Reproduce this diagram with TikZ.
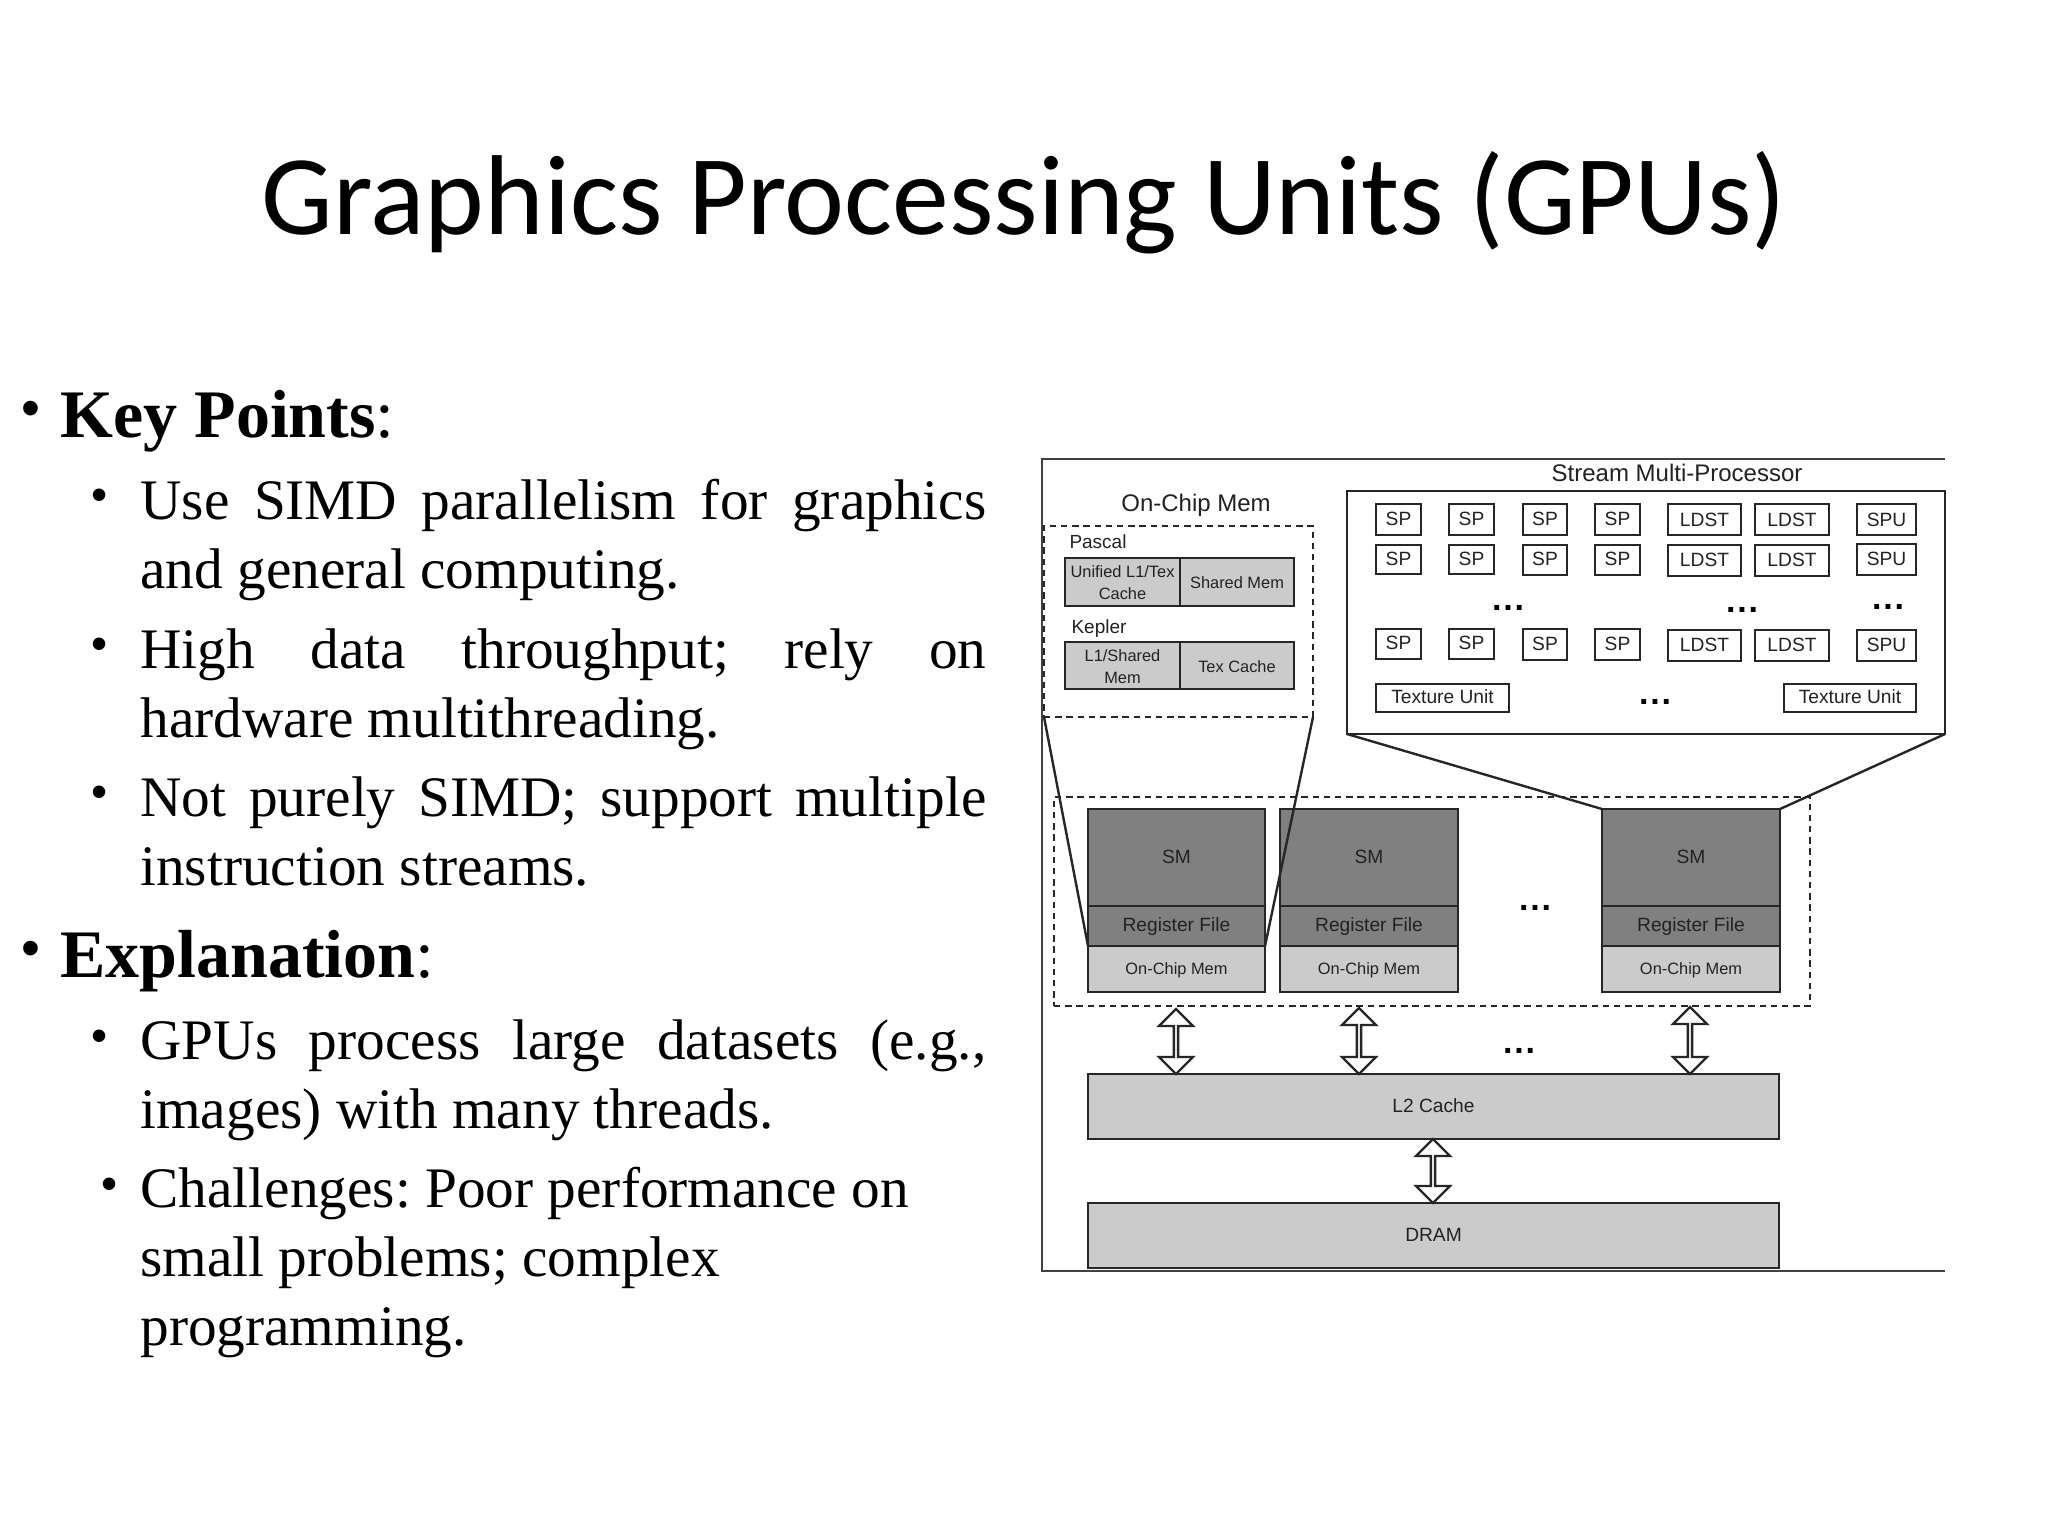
\documentclass[tikz,border=0pt]{standalone}
\usepackage{fontspec}
\setmainfont{Liberation Serif}
\newfontfamily\titlefont{Carlito}
\newfontfamily\diagfont{Liberation Sans}
\usetikzlibrary{shapes.arrows}
\definecolor{sminner}{HTML}{808080}
\definecolor{memgrey}{HTML}{CBCBCB}
\definecolor{inktext}{HTML}{222222}
\tikzset{
  cellbox/.style={draw=black!85,line width=1.4pt,inner sep=0pt,outer sep=0pt,font=\diagfont\fontsize{9.6}{11}\selectfont,text=inktext,align=center},
  darkcell/.style={cellbox,fill=sminner},
  greycell/.style={cellbox,fill=memgrey},
  tinycell/.style={greycell,font=\diagfont\fontsize{8.2}{10}\selectfont},
  plaincell/.style={cellbox,fill=white},
  dashbox/.style={draw=black!85,line width=1.2pt,dash pattern=on 3.2pt off 2.4pt,inner sep=0pt,outer sep=0pt},
  panelbox/.style={draw=black!85,line width=1.4pt,inner sep=0pt,outer sep=0pt},
  link/.style={draw=black!85,line width=1.2pt},
  bigarrow/.style={double arrow,draw=black!85,fill=white,line width=1.2pt,rotate=90,inner sep=0pt,outer sep=0pt,minimum width=17pt,double arrow head extend=4.2pt,double arrow tip angle=90},
  difflabel/.style={inner sep=0pt,font=\diagfont\fontsize{9.5}{13}\selectfont,text=inktext},
  dotslabel/.style={inner sep=0pt,font=\diagfont\bfseries\fontsize{17}{17}\selectfont,text=black},
  bodyline/.style={anchor=base west,inner sep=0pt,font=\frenchspacing\fontsize{28.65}{32}\selectfont},
  headline/.style={anchor=base west,inner sep=0pt,font=\fontsize{34}{38}\selectfont},
  bulA/.style={anchor=base,inner sep=0pt,font=\diagfont\fontsize{27}{27}\selectfont},
  bulB/.style={anchor=base,inner sep=0pt,font=\diagfont\fontsize{23}{23}\selectfont},
}
% \bx[style]{name}{x1}{y1}{x2}{y2}{text}
\newcommand\bx[7][]{\node[#1,minimum width={(#5-#3)*0.5},minimum height={(#6-#4)*0.5}] (#2) at ({(#3+#5)/2},{(#4+#6)/2}) {#7};}
\newcommand\jl[4]{\node[bodyline] (#1) at (#2,#3) {\makebox[423pt][s]{#4}};}
\newcommand\pl[4]{\node[bodyline] (#1) at (#2,#3) {#4};}
\newcommand\dn[1]{\raisebox{-0.5pt}[\height][\depth]{#1}}
\newcommand\dnm[1]{\raisebox{-0.8pt}[\height][\depth]{#1}}
\newcommand\dnh[1]{\raisebox{-0.5pt}[\height][\depth]{#1}}
\newcommand\up[1]{\raisebox{0.5pt}[\height][\depth]{#1}}
\newcommand\threedots{.\kern0.9pt.\kern0.9pt.}
\begin{document}
\begin{tikzpicture}[x=0.5pt,y=-0.5pt]
\useasboundingbox (0,0) rectangle (2048,1536);
\fill[white] (0,0) rectangle (2048,1536);
% title
\node[inner sep=0pt,anchor=base,font=\titlefont\fontsize{56.8}{62}\selectfont] (title) at (1024,234) {Graphics Processing Units (GPUs)};
% text
\node[bulA] (b1) at (31,426) {•};
\node[headline] (h1) at (60,437) {\textbf{Key Points}:};
\node[bulB] (b2) at (100,510) {•};
\jl{l1}{140}{519}{Use SIMD parallelism for graphics}
\pl{l2}{140}{588}{and general computing.}
\node[bulB] (b3) at (100,659) {•};
\jl{l3}{140}{668}{High data throughput; rely on}
\pl{l4}{140}{737}{hardware multithreading.}
\node[bulB] (b4) at (100,807) {•};
\jl{l5}{140}{816}{Not purely SIMD; support multiple}
\pl{l6}{140}{885}{instruction streams.}
\node[bulA] (b5) at (31,966) {•};
\node[headline] (h2) at (60,977) {\textbf{Explanation}:};
\node[bulB] (b6) at (100,1051) {•};
\jl{l7}{140}{1059}{GPUs process large datasets (e.g.,}
\pl{l8}{140}{1128}{images) with many threads.}
\node[bulB] (b7) at (110,1199) {•};
\pl{l9}{140}{1207}{Challenges: Poor performance on}
\pl{l10}{140}{1276}{small problems; complex}
\pl{l11}{140}{1345}{programming.}
% frame
\draw[line width=0.8pt,draw=black!75] (1945,459) -- (1042,459) -- (1042,1271) -- (1945,1271);
% titles
\node[difflabel,font=\diagfont\fontsize{12}{14}\selectfont] (omt) at (1196,505) {On-Chip Mem};
\node[difflabel,font=\diagfont\fontsize{12}{14}\selectfont] (smpt) at (1677,473) {Stream Multi-Processor};
% on-chip detail
\bx[dashbox]{ocd}{1044}{526}{1313}{717}{}
\node[difflabel] (pas) at (1098,542) {Pascal};
\node[difflabel] (kep) at (1099,629) {Kepler};
\bx[tinycell]{p1}{1065}{558}{1180}{606}{\dnh{Unified L1/Tex}\\[1pt]\dnh{Cache}}
\bx[tinycell]{p2}{1180}{558}{1294}{606}{\dnh{Shared Mem}}
\bx[tinycell]{k1}{1065}{642}{1180}{689}{\dnh{L1/Shared}\\[1pt]\dnh{Mem}}
\bx[tinycell]{k2}{1180}{642}{1294}{689}{\dnh{Tex Cache}}
% SMP
\bx[panelbox]{smp}{1347}{491}{1945}{734}{}
\bx[plaincell]{a1}{1376}{504}{1421}{535}{\up{SP}}
\bx[plaincell]{a2}{1449}{504}{1494}{535}{\up{SP}}
\bx[plaincell]{a3}{1523}{504}{1567}{535}{\up{SP}}
\bx[plaincell]{a4}{1595}{504}{1640}{535}{\up{SP}}
\bx[plaincell]{a5}{1668}{504}{1741}{535}{LDST}
\bx[plaincell]{a6}{1755}{504}{1829}{535}{LDST}
\bx[plaincell]{a7}{1857}{504}{1916}{535}{SPU}
\bx[plaincell]{b1c}{1376}{545}{1421}{574}{\up{SP}}
\bx[plaincell]{b2c}{1449}{545}{1494}{574}{\up{SP}}
\bx[plaincell]{b3c}{1523}{545}{1567}{575}{\up{SP}}
\bx[plaincell]{b4c}{1595}{545}{1640}{575}{\up{SP}}
\bx[plaincell]{b5c}{1668}{545}{1741}{576}{\up{LDST}}
\bx[plaincell]{b6c}{1755}{545}{1829}{576}{\up{LDST}}
\bx[plaincell]{b7c}{1857}{544}{1916}{575}{\up{SPU}}
\bx[plaincell]{c1}{1376}{629}{1421}{659}{\up{SP}}
\bx[plaincell]{c2}{1449}{629}{1494}{659}{\up{SP}}
\bx[plaincell]{c3}{1523}{629}{1567}{660}{\up{SP}}
\bx[plaincell]{c4}{1595}{629}{1640}{660}{\up{SP}}
\bx[plaincell]{c5}{1668}{630}{1741}{661}{\up{LDST}}
\bx[plaincell]{c6}{1755}{630}{1829}{661}{\up{LDST}}
\bx[plaincell]{c7}{1857}{630}{1916}{661}{\up{SPU}}
\bx[plaincell]{t1}{1376}{684}{1509}{712}{\up{Texture Unit}}
\bx[plaincell]{t2}{1784}{684}{1916}{712}{\up{Texture Unit}}
\node[dotslabel] (d1) at (1508,608) {\threedots};
\node[dotslabel] (d2) at (1742,610) {\threedots};
\node[dotslabel] (d3) at (1888,607) {\threedots};
\node[dotslabel] (d4) at (1655,702) {\threedots};
% dashed SM group
\bx[dashbox]{grp}{1054}{797}{1810}{1006}{}
\bx[darkcell]{s1}{1088}{809}{1265}{906}{\up{SM}}
\bx[darkcell]{r1}{1088}{906}{1265}{946}{\dn{Register File}}
\bx[tinycell]{o1}{1088}{946}{1265}{992}{\dnm{On-Chip Mem}}
\bx[darkcell]{s2}{1280}{809}{1458}{906}{\up{SM}}
\bx[darkcell]{r2}{1280}{906}{1458}{946}{\dn{Register File}}
\bx[tinycell]{o2}{1280}{946}{1458}{992}{\dnm{On-Chip Mem}}
\bx[darkcell]{s3}{1602}{809}{1780}{906}{\up{SM}}
\bx[darkcell]{r3}{1602}{906}{1780}{946}{\dn{Register File}}
\bx[tinycell]{o3}{1602}{946}{1780}{992}{\dnm{On-Chip Mem}}
\node[dotslabel] (d5) at (1535,908) {\threedots};
\node[dotslabel] (d6) at (1519,1051) {\threedots};
% memory
\bx[greycell]{l2}{1088}{1074}{1779}{1139}{\up{L2 Cache}}
\bx[greycell]{dram}{1088}{1203}{1779}{1268}{\up{DRAM}}
% block arrows
\node[bigarrow,minimum height=32.5pt] (ar1) at (1176,1041.5) {};
\node[bigarrow,minimum height=33pt] (ar2) at (1359,1041) {};
\node[bigarrow,minimum height=33.5pt] (ar3) at (1690,1040.5) {};
\node[bigarrow,minimum height=32pt] (ar4) at (1433,1171) {};
% connectors
\draw[link] (ocd.south west) -- (r1.south west);
\draw[link] (ocd.south east) -- (r1.south east);
\draw[link] (smp.south west) -- (s3.north west);
\draw[link] (smp.south east) -- (s3.north east);
\end{tikzpicture}
\end{document}
